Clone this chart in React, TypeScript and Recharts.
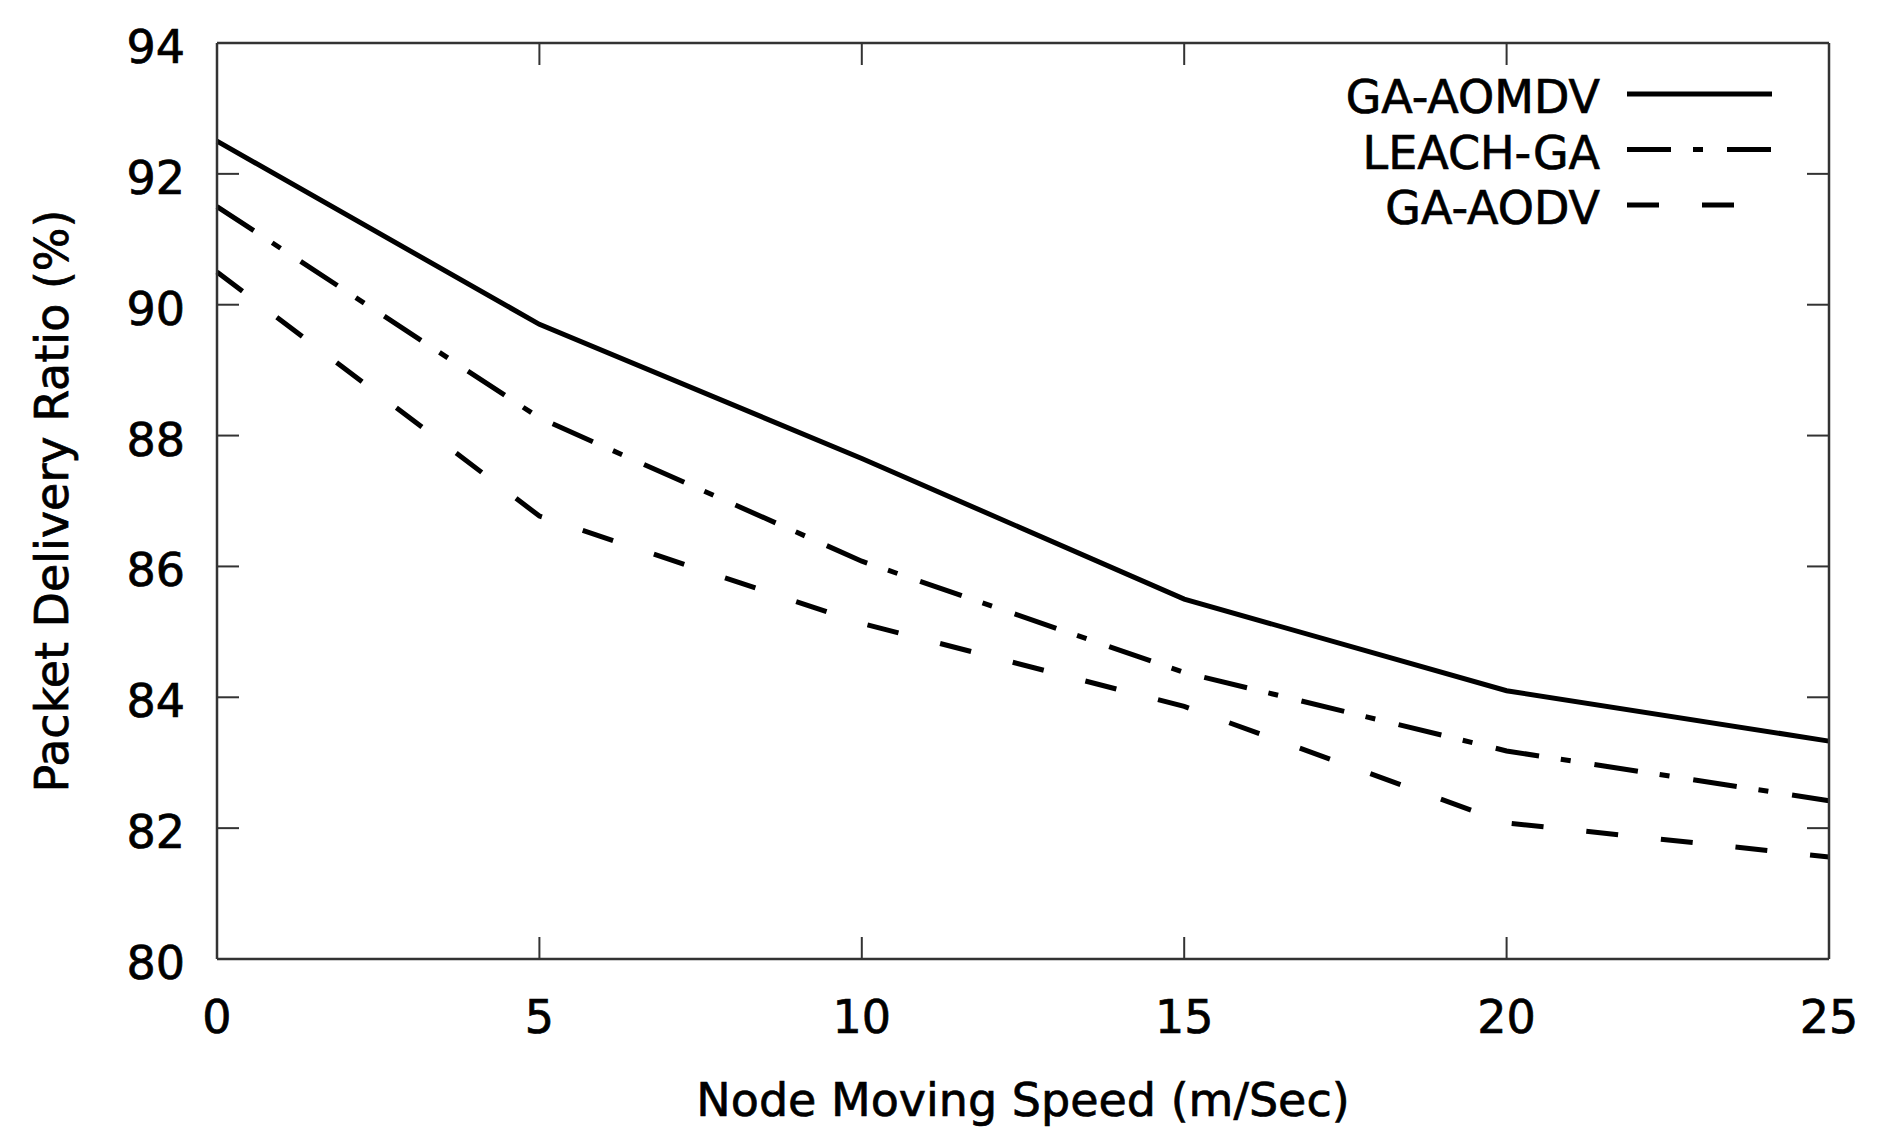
import React from 'react';
import { LineChart, Line, XAxis, YAxis, Legend, Label } from 'recharts';

// node speed (m/s) on x
const speeds = [0, 5, 10, 15, 20, 25];

// packet delivery ratio (%)
const gaAomdv = [92.5, 89.7, 87.65, 85.5, 84.1, 83.33];
const leachGa = [91.5, 88.27, 86.08, 84.38, 83.18, 82.42];
const gaAodv = [90.5, 86.77, 85.13, 83.86, 82.08, 81.56];

const xTicks = [0, 5, 10, 15, 20, 25];
const yTicks = [80, 82, 84, 86, 88, 90, 92, 94];

const series = [
  { key: 'aomdv', name: 'GA-AOMDV', dash: undefined as string | undefined },
  { key: 'leach', name: 'LEACH-GA', dash: '44 22 10 24' },
  { key: 'aodv', name: 'GA-AODV', dash: '32 43' },
];

const data = speeds.map((s, i) => ({
  speed: s,
  aomdv: gaAomdv[i],
  leach: leachGa[i],
  aodv: gaAodv[i],
}));

const FONT = '"DejaVu Sans", sans-serif';
const FS = 46;
const AXIS = '#333';
const TICK_LEN = 22;

// slight stroke so the text looks as heavy as the scanned original
const txt = { fontFamily: FONT, fontSize: FS, fill: '#000', stroke: '#000', strokeWidth: 0.7 };

const BottomTick = (props: any) => {
  const { x, y, payload } = props;
  return (
    <g>
      <line x1={x} y1={y} x2={x} y2={y - TICK_LEN} stroke={AXIS} strokeWidth={2} />
      <text x={x} y={y + 74} textAnchor="middle" {...txt}>
        {payload.value}
      </text>
    </g>
  );
};

const TopTick = (props: any) => {
  const { x, y } = props;
  return (
    <g>
      <line x1={x} y1={y} x2={x} y2={y + TICK_LEN} stroke={AXIS} strokeWidth={2} />
    </g>
  );
};

const LeftTick = (props: any) => {
  const { x, y, payload } = props;
  return (
    <g>
      <line x1={x} y1={y} x2={x + TICK_LEN} y2={y} stroke={AXIS} strokeWidth={2} />
      <text x={x - 32} y={y + 20} textAnchor="end" {...txt}>
        {payload.value}
      </text>
    </g>
  );
};

const RightTick = (props: any) => {
  const { x, y } = props;
  return (
    <g>
      <line x1={x} y1={y} x2={x - TICK_LEN} y2={y} stroke={AXIS} strokeWidth={2} />
    </g>
  );
};

const KeyBox = () => (
  <svg width={560} height={180}>
    {series.map((s, i) => {
      const cy = 34 + i * 55.5;
      return (
        <g key={s.key}>
          <text x={350} y={cy + 19} textAnchor="end" {...txt}>
            {s.name}
          </text>
          <line x1={377} y1={cy} x2={522} y2={cy} stroke="#000" strokeWidth={5} strokeDasharray={s.dash} />
        </g>
      );
    })}
  </svg>
);

export default function App() {
  return (
    <div style={{ position: 'absolute', left: 0, top: 0, background: '#fff' }}>
      <LineChart width={1877} height={1143} data={data} margin={{ top: 42, right: 47, bottom: 0, left: 0 }}>
        <XAxis
          dataKey="speed"
          type="number"
          domain={[0, 25]}
          ticks={xTicks}
          height={184}
          tickSize={0}
          tickMargin={0}
          tickLine={false}
          axisLine={{ stroke: AXIS, strokeWidth: 2.5 }}
          tick={BottomTick}
          interval={0}
        >
          <Label
            content={(p: any) => {
              const vb = p.viewBox;
              return (
                <text x={vb.x + vb.width / 2} y={vb.y + 157} textAnchor="middle" {...txt}>
                  Node Moving Speed (m/Sec)
                </text>
              );
            }}
          />
        </XAxis>
        <XAxis
          xAxisId="top"
          orientation="top"
          dataKey="speed"
          type="number"
          domain={[0, 25]}
          allowDataOverflow
          ticks={xTicks}
          height={1}
          tickSize={0}
          tickMargin={0}
          tickLine={false}
          axisLine={{ stroke: AXIS, strokeWidth: 2.5 }}
          tick={TopTick}
          interval={0}
        />
        <YAxis
          type="number"
          domain={[80, 94]}
          ticks={yTicks}
          width={217}
          tickSize={0}
          tickMargin={0}
          tickLine={false}
          axisLine={{ stroke: AXIS, strokeWidth: 2.5 }}
          tick={LeftTick}
          interval={0}
        >
          <Label
            content={(p: any) => {
              const vb = p.viewBox;
              const cx = vb.x + 68;
              const cy = vb.y + vb.height / 2;
              return (
                <text x={cx} y={cy} transform={`rotate(-90 ${cx} ${cy})`} textAnchor="middle" {...txt}>
                  Packet Delivery Ratio (%)
                </text>
              );
            }}
          />
        </YAxis>
        <YAxis
          yAxisId="right"
          orientation="right"
          type="number"
          domain={[80, 94]}
          allowDataOverflow
          ticks={yTicks}
          width={1}
          tickSize={0}
          tickMargin={0}
          tickLine={false}
          axisLine={{ stroke: AXIS, strokeWidth: 2.5 }}
          tick={RightTick}
          interval={0}
        />
        <Legend
          layout="vertical"
          align="center"
          verticalAlign="middle"
          wrapperStyle={{ left: 1250, top: 60, width: 560, height: 180 }}
          content={() => <KeyBox />}
        />
        {series.map((s) => (
          <Line
            key={s.key}
            type="linear"
            dataKey={s.key}
            name={s.name}
            stroke="#000"
            strokeWidth={5}
            strokeDasharray={s.dash}
            dot={false}
            activeDot={false}
            isAnimationActive={false}
          />
        ))}
      </LineChart>
    </div>
  );
}
